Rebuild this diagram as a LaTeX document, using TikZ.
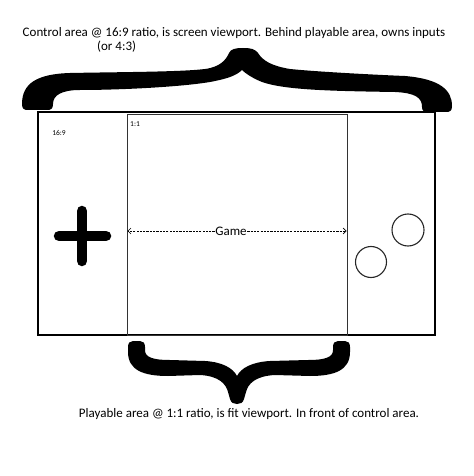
\documentclass[tikz,border=0pt]{standalone}
\usepackage{fontspec}
\setmainfont{Carlito}
\usetikzlibrary{arrows.meta}
\begin{document}
\begin{tikzpicture}[x=1bp,y=-1bp,
  lbl/.style={inner sep=0pt,font=\fontsize{13bp}{15bp}\selectfont},
  tiny/.style={inner sep=0pt,font=\fontsize{7.5bp}{9bp}\selectfont},
  area/.style={draw,inner sep=0pt,minimum width=#1},
  bracefill/.style={fill=black},
  btn/.style={draw=black!85,line width=1.1bp,circle,inner sep=0pt,minimum size=32bp},
  pad/.style={line width=10.5bp,line cap=round},
  gamearrow/.style={dashed,dash pattern=on 2.2bp off 1.1bp,line width=0.6bp,-{Straight Barb[length=3bp,width=6bp,line width=0.6bp]}}
]
\useasboundingbox (0,0) rectangle (474,476);
% control area (16:9)
\node[area=397bp,minimum height=223bp,line width=2bp] (ctrl) at (236.5,223.5) {};
% playable area (1:1)
\node[area=220bp,minimum height=220bp,line width=1bp,draw=black!80] (play) at (237,225) {};
\node[tiny] (l169) at (59,133) {16:9};
\node[tiny] (l11) at (135,124) {1:1};
% d-pad
\coordinate (dt) at (82,211);
\coordinate (db) at (82,261);
\coordinate (dl) at (59,236);
\coordinate (dr) at (106,236);
\draw[pad] (dt) -- (db);
\draw[pad] (dl) -- (dr);
% buttons
\node[btn] (b1) at (408,230) {};
\node[btn,minimum size=31bp] (b2) at (371,262) {};
% game label
\node[lbl,fill=white,inner xsep=0.5bp] (game) at (231,231) {Game};
\coordinate (gl) at (127.5,231);
\coordinate (gr) at (346.5,231);
\draw[gamearrow] (game.west) -- (gl);
\draw[gamearrow] (game.east) -- (gr);
% top text
\node[lbl,anchor=base] (ttop) at (234,37) {Control area @ 16:9 ratio, is screen viewport. Behind playable area, owns inputs};
\node[lbl,anchor=base west] (ttop2) at (97,51) {(or 4:3)};
% bottom text
\node[lbl,anchor=base] (tbot) at (249,417) {Playable area @ 1:1 ratio, is fit viewport. In front of control area.};
% top brace
\fill[bracefill] (22,104) .. controls (22,84) and (36,74) .. (70,73)
 .. controls (120,72) and (180,72) .. (205,69)
 .. controls (220,67) and (226,60) .. (229,53)
 .. controls (231,49) and (235,48) .. (243,48)
 .. controls (251,48) and (255,49) .. (258,53)
 .. controls (263,61) and (272,66) .. (290,69)
 .. controls (320,72) and (380,75) .. (405,76)
 .. controls (440,79) and (452,90) .. (452,106)
 .. controls (452,111) and (450,112) .. (446,112)
 -- (428,112) .. controls (424,112) and (422,111) .. (422,107)
 .. controls (422,98) and (416,93) .. (395,92)
 .. controls (330,91) and (285,90) .. (262,82)
 .. controls (252,78) and (245,73) .. (242,70)
 .. controls (236,76) and (226,79) .. (210,82)
 .. controls (180,87) and (120,90) .. (80,90)
 .. controls (62,90) and (53,95) .. (53,104)
 .. controls (53,109) and (51,110) .. (47,110)
 -- (28,110) .. controls (24,110) and (22,109) .. (22,104) -- cycle;
% bottom brace
\fill[bracefill] (128,347) .. controls (128,343) and (130,341) .. (133,341) -- (140,341) .. controls (143,341) and (145,343) .. (145,347)
 -- (145,350) .. controls (145,357) and (152,360) .. (170,360)
 -- (205,361) .. controls (222,362) and (233,368) .. (237,376)
 .. controls (241,368) and (252,362) .. (270,361)
 -- (308,360) .. controls (326,360) and (333,357) .. (333,350)
 -- (333,347) .. controls (333,343) and (335,341) .. (338,341) -- (345,341) .. controls (348,341) and (350,343) .. (350,347)
 -- (350,352) .. controls (350,370) and (335,376) .. (310,376)
 -- (275,375) .. controls (255,376) and (248,384) .. (246,392)
 -- (244,399) .. controls (243,403) and (240,404) .. (237,404)
 .. controls (234,404) and (231,403) .. (230,399)
 -- (228,392) .. controls (226,384) and (219,376) .. (200,375)
 -- (168,376) .. controls (143,376) and (128,370) .. (128,352) -- cycle;
\end{tikzpicture}
\end{document}
